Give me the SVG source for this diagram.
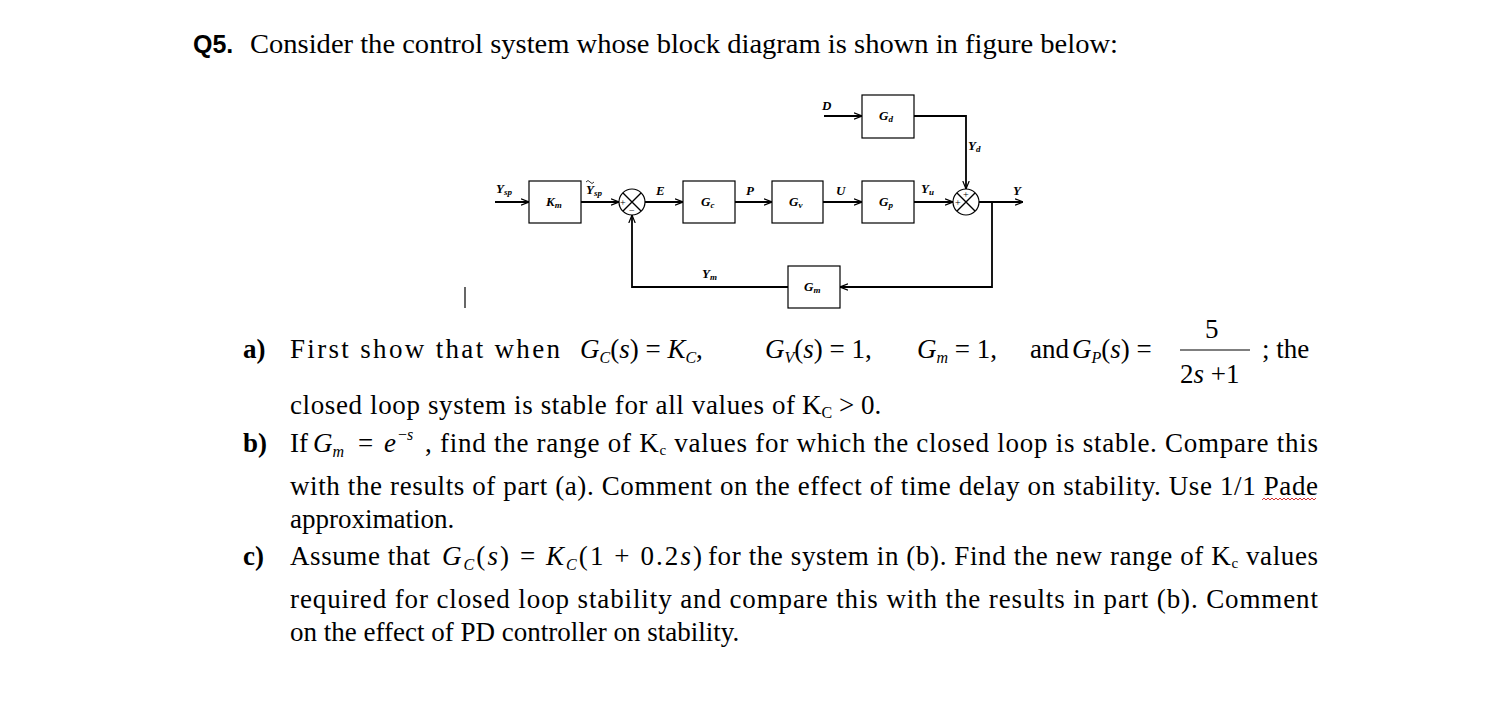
<svg xmlns="http://www.w3.org/2000/svg" width="1499" height="720" viewBox="0 0 1499 720">
<defs>
<marker id="ah" viewBox="0 0 10 10" refX="10" refY="5" markerWidth="8" markerHeight="8" orient="auto" markerUnits="userSpaceOnUse"><path d="M0,1 L10,5 L0,9" fill="none" stroke="#000" stroke-width="1.5"/></marker>
<style>
.b{fill:#fff;stroke:#000;stroke-width:1.2}
.w{stroke:#000;stroke-width:1.8;fill:none}
.l{font-family:"Liberation Serif",serif;font-style:italic;font-size:13px;font-weight:bold}
.t{font-family:"Liberation Serif",serif;font-size:27px;fill:#000}
.m{font-family:"Liberation Serif",serif;font-size:27px;font-style:italic}
</style>
</defs>
<rect width="1499" height="720" fill="#fff"/>
<text x="193" y="53" style="font-family:'Liberation Sans',sans-serif;font-size:25px;font-weight:bold">Q5.</text>
<text x="250" y="53" class="t" style="font-size:28px" textLength="868" lengthAdjust="spacingAndGlyphs">Consider the control system whose block diagram is shown in figure below:</text>
<line x1="465" y1="287" x2="465" y2="308" stroke="#000" stroke-width="1.2"/>
<g id="connectors">
<line class="w" x1="495" y1="202" x2="529" y2="202" marker-end="url(#ah)"/>
<line class="w" x1="581" y1="202" x2="619" y2="202" marker-end="url(#ah)"/>
<line class="w" x1="645" y1="202" x2="683" y2="202" marker-end="url(#ah)"/>
<line class="w" x1="735" y1="202" x2="772" y2="202" marker-end="url(#ah)"/>
<line class="w" x1="823" y1="202" x2="862" y2="202" marker-end="url(#ah)"/>
<line class="w" x1="914" y1="202" x2="953" y2="202" marker-end="url(#ah)"/>
<line class="w" x1="979" y1="202" x2="1023" y2="202" marker-end="url(#ah)"/>
<line class="w" x1="824" y1="116" x2="862" y2="116" marker-end="url(#ah)"/>
<polyline class="w" points="914,116 966,116 966,189" marker-end="url(#ah)"/>
<polyline class="w" points="992,202 992,287 840,287" marker-end="url(#ah)"/>
<polyline class="w" points="788,287 632,287 632,215" marker-end="url(#ah)"/>
</g>
<g id="Km"><rect class="b" x="529" y="181" width="52" height="42"/><text class="l" x="546" y="206">K<tspan font-size="9" dy="2">m</tspan></text></g>
<g id="Gc"><rect class="b" x="683" y="181" width="52" height="42"/><text class="l" x="701" y="206">G<tspan font-size="9" dy="2">c</tspan></text></g>
<g id="Gv"><rect class="b" x="772" y="181" width="51" height="42"/><text class="l" x="789" y="206">G<tspan font-size="9" dy="2">v</tspan></text></g>
<g id="Gp"><rect class="b" x="862" y="181" width="52" height="42"/><text class="l" x="879" y="206">G<tspan font-size="9" dy="2">p</tspan></text></g>
<g id="Gd"><rect class="b" x="862" y="95" width="52" height="43"/><text class="l" x="879" y="120">G<tspan font-size="9" dy="2">d</tspan></text></g>
<g id="Gm"><rect class="b" x="788" y="266" width="52" height="42"/><text class="l" x="804" y="291">G<tspan font-size="9" dy="2">m</tspan></text></g>
<g id="sum1"><circle cx="632" cy="202" r="13" class="b" stroke-width="1.6"/><path d="M623,193 L641,211 M641,193 L623,211" stroke="#000" stroke-width="1.4"/><text x="620" y="206" font-size="10" font-family="Liberation Serif">+</text><text x="629" y="214" font-size="10" font-family="Liberation Serif">−</text></g>
<g id="sum2"><circle cx="966" cy="202" r="13" class="b" stroke-width="1.6"/><path d="M957,193 L975,211 M975,193 L957,211" stroke="#000" stroke-width="1.4"/><text x="963" y="198" font-size="10" font-family="Liberation Serif">+</text><text x="955" y="206" font-size="10" font-family="Liberation Serif">+</text></g>
<g id="labels" class="l">
<text x="496" y="193">Y<tspan font-size="9" dy="2">sp</tspan></text>
<text x="586" y="194">Y<tspan font-size="9" dy="2">sp</tspan></text>
<path d="M586,182 q2,-3 4,0 t4,0" fill="none" stroke="#000" stroke-width="0.8"/>
<text x="656" y="195">E</text>
<text x="746" y="195">P</text>
<text x="836" y="195">U</text>
<text x="921" y="193">Y<tspan font-size="9" dy="2">u</tspan></text>
<text x="1013" y="195">Y</text>
<text x="822" y="110">D</text>
<text x="968" y="150">Y<tspan font-size="9" dy="2">d</tspan></text>
<text x="702" y="278">Y<tspan font-size="9" dy="2">m</tspan></text>
</g>
<g id="text">
<text x="243" y="358" class="t" font-weight="bold">a)</text>
<text x="290" y="358" class="t" textLength="270" lengthAdjust="spacing">First show that when</text>
<text x="580" y="358" class="m">G<tspan font-size="16" dy="5">C</tspan><tspan dy="-5" font-style="normal">(</tspan>s<tspan font-style="normal">) = </tspan>K<tspan font-size="16" dy="5">C</tspan><tspan dy="-5" font-style="normal">,</tspan></text>
<text x="765" y="358" class="m">G<tspan font-size="16" dy="5">V</tspan><tspan dy="-5" font-style="normal">(</tspan>s<tspan font-style="normal">) = 1,</tspan></text>
<text x="917" y="358" class="m">G<tspan font-size="16" dy="5">m</tspan><tspan dy="-5" font-style="normal"> = 1,</tspan></text>
<text x="1030" y="358" class="t">and</text>
<text x="1072" y="358" class="m">G<tspan font-size="16" dy="5">P</tspan><tspan dy="-5" font-style="normal">(</tspan>s<tspan font-style="normal">) =</tspan></text>
<text x="1205" y="338" class="t">5</text>
<line x1="1180" y1="350" x2="1250" y2="350" stroke="#000" stroke-width="1.2"/>
<text x="1180" y="383" class="t">2<tspan font-style="italic">s</tspan> +1</text>
<text x="1262" y="358" class="t">;  the</text>
<text x="290" y="414" class="t" textLength="505" lengthAdjust="spacing">closed loop system is stable for all values of</text>
<text x="802" y="414" class="t">K<tspan font-size="16" dy="4">C</tspan><tspan dy="-4"> &gt; 0.</tspan></text>
<text x="243" y="452" class="t" font-weight="bold">b)</text>
<text x="290" y="452" class="t">If</text>
<text x="313" y="452" class="m">G<tspan font-size="16" dy="5">m</tspan></text>
<text x="358" y="452" class="t">=</text>
<text x="384" y="452" class="m">e</text>
<text x="398" y="440" style="font-family:'Liberation Serif',serif;font-size:16px">−<tspan font-style="italic">s</tspan></text>
<text x="425" y="452" class="t" textLength="893" lengthAdjust="spacing">, find the range of K<tspan font-size="15" dy="3">c</tspan><tspan dy="-3"> values for which the closed loop is stable. Compare this</tspan></text>
<text x="290" y="495" class="t" textLength="1028" lengthAdjust="spacing">with the results of part (a). Comment on the effect of time delay on stability.  Use 1/1 Pade</text>
<path d="M1262,500 l2,-2 2,2 2,-2 2,2 2,-2 2,2 2,-2 2,2 2,-2 2,2 2,-2 2,2 2,-2 2,2 2,-2 2,2 2,-2 2,2 2,-2 2,2 2,-2 2,2 2,-2 2,2 2,-2 2,2 2,-2" fill="none" stroke="#c00" stroke-width="0.8"/>
<text x="290" y="528" class="t">approximation.</text>
<text x="243" y="565" class="t" font-weight="bold">c)</text>
<text x="290" y="565" class="t" textLength="140" lengthAdjust="spacing">Assume that</text>
<text x="442" y="565" class="m" textLength="260" lengthAdjust="spacing">G<tspan font-size="16" dy="5">C</tspan><tspan dy="-5" font-style="normal">(</tspan>s<tspan font-style="normal">) = </tspan>K<tspan font-size="16" dy="5">C</tspan><tspan dy="-5" font-style="normal">(1 + 0.2</tspan>s<tspan font-style="normal">)</tspan></text>
<text x="708" y="565" class="t" textLength="610" lengthAdjust="spacing">for the system in (b). Find the new range of K<tspan font-size="15" dy="3">c</tspan><tspan dy="-3"> values</tspan></text>
<text x="290" y="608" class="t" textLength="1028" lengthAdjust="spacing">required for closed loop stability and compare this with the results in part (b). Comment</text>
<text x="290" y="641" class="t">on the effect of PD controller on stability.</text>
</g>
</svg>
